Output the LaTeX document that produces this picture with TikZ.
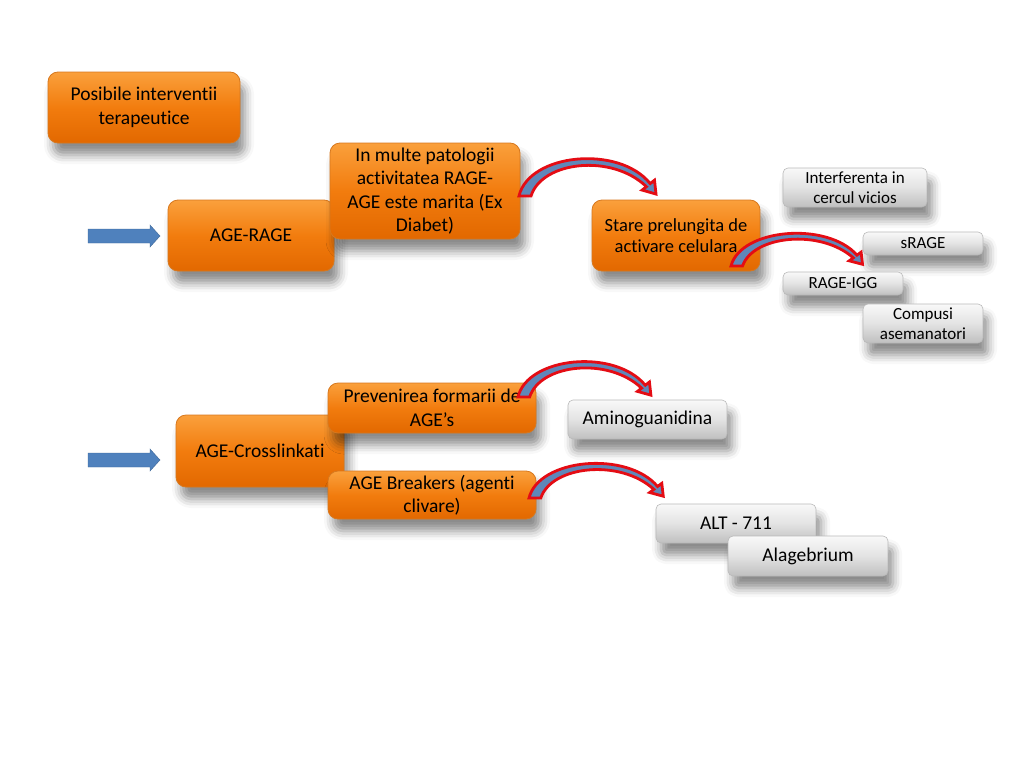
\documentclass[tikz,border=0pt]{standalone}
\usepackage{fontspec}
\setmainfont{Carlito}[Ligatures={NoCommon}]
\usetikzlibrary{arrows.meta,calc,shadows.blur}
\definecolor{orA}{RGB}{250,160,60}
\definecolor{orM}{RGB}{242,124,14}
\definecolor{orB}{RGB}{226,104,0}
\definecolor{orD}{RGB}{215,120,30}
\definecolor{blA}{RGB}{79,129,189}
\definecolor{arBlue}{RGB}{95,135,185}
\definecolor{arRed}{RGB}{228,12,20}
\tikzset{
  shd/.style={blur shadow={shadow xshift=5pt, shadow yshift=-12pt, shadow blur radius=9pt, shadow opacity=45}},
  obox/.style={shd, rounded corners=10pt, draw=orD, line width=0.8pt,
    top color=orA, bottom color=orB, middle color=orM,
    align=center, inner sep=1pt, text=black,
    font=\fontsize{19.5}{23.5}\selectfont},
  gbox/.style={shd, rounded corners=5pt, draw=gray!55, line width=0.6pt,
    top color=gray!5, bottom color=gray!50, middle color=gray!22,
    align=center, inner sep=1pt, text=black,
    font=\fontsize{17}{20}\selectfont},
  bigtext/.style={font=\fontsize{19.5}{23.5}\selectfont},
  blkarrow/.style={fill=blA, draw=blA!80!black, line width=0.4pt},
  curvarrow/.style={fill=arBlue, draw=arRed, line width=2.8pt, line join=miter},
}
\newcommand{\bentarrow}[2]{%
  \path[curvarrow, shift={(#1)}, #2] (0,0) .. controls (10,-44) and (100,-53) .. (131.2,-12.8)
    -- (135.5,-16.3) -- (137,-2) -- (123.1,-6.1) -- (127.4,-9.6)
    .. controls (93,-44) and (23,-36) .. (12,0) -- cycle;}
\begin{document}
\begin{tikzpicture}[x=1pt,y=-1pt]
\useasboundingbox (0,0) rectangle (1024,768);

% top group
\node[obox, minimum width=192pt, minimum height=71pt] (pi) at (144,107.5) {Posibile interventii\\terapeutice};
\node[obox, minimum width=166pt, minimum height=71pt] (ar) at (251,235.5) {AGE-RAGE};
\node[obox, minimum width=190pt, minimum height=96pt] (ib) at (425,191) {In multe patologii\\activitatea RAGE-\\AGE este marita (Ex\\Diabet)};
\node[obox, minimum width=168pt, minimum height=71pt, font=\fontsize{18.5}{21}\selectfont] (st) at (676,235.5) {Stare prelungita de\\activare celulara};
\node[gbox, minimum width=144pt, minimum height=39pt] (if) at (855,187.5) {Interferenta in\\cercul vicios};
\node[gbox, minimum width=120pt, minimum height=23pt] (sr) at (923,243.5) {sRAGE};
\node[gbox, minimum width=120pt, minimum height=23pt] (rg) at (843,283.5) {RAGE-IGG};
\node[gbox, minimum width=120pt, minimum height=39pt] (cp) at (923,323.5) {Compusi\\asemanatori};

% bottom group
\node[obox, minimum width=168pt, minimum height=72pt] (ac) at (260,451) {AGE-Crosslinkati};
\node[obox, minimum width=208pt, minimum height=50pt] (pv) at (432,408) {Prevenirea formarii de\\AGE’s};
\node[obox, minimum width=208pt, minimum height=48pt] (ab) at (432,495) {AGE Breakers (agenti\\clivare)};
\node[gbox, bigtext, minimum width=159pt, minimum height=39pt] (am) at (647.5,419.5) {Aminoguanidina};
\node[gbox, bigtext, minimum width=160pt, minimum height=39pt] (alt) at (736,523.5) {ALT - 711};
\node[gbox, bigtext, minimum width=160pt, minimum height=40pt] (alg) at (808,556) {Alagebrium};

% blue block arrows
\coordinate (b1) at (88,236);
\coordinate (b2) at (88,460);
\foreach \c in {b1,b2}{
  \path[blkarrow] ($(\c)+(0,-7)$) -- ++(62,0) -- ++(0,-4) -- ++(10,11) -- ++(-10,11) -- ++(0,-4) -- ++(-62,0) -- cycle;
}

% curved block arrows (start points inside the boxes)
\coordinate (c1s) at (519,196);
\coordinate (c2s) at (731,266);
\coordinate (c3s) at (518,397);
\coordinate (c4s) at (529,498);
\bentarrow{c1s}{xscale=1,yscale=0.97}
\bentarrow{c2s}{xscale=0.96,yscale=0.85}
\bentarrow{c3s}{xscale=0.97,yscale=0.92}
\bentarrow{c4s}{xscale=0.98,yscale=0.9}
\end{tikzpicture}
\end{document}
